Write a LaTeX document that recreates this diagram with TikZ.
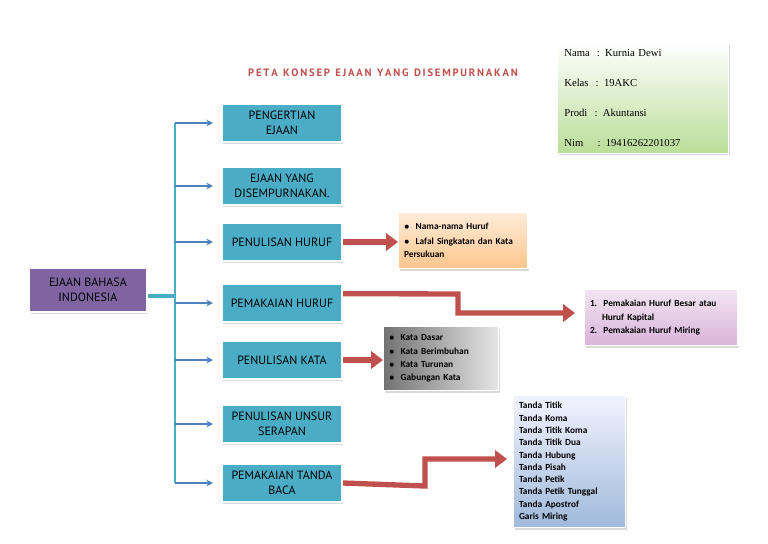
\documentclass[tikz,border=0pt]{standalone}
\usepackage{fontspec}
\setmainfont{Liberation Serif}
\newfontfamily\boxfont{PT Sans}
\newfontfamily\listfont{Carlito}
\usetikzlibrary{arrows.meta,shadows}
\definecolor{topicblue}{HTML}{4BACC6}
\definecolor{rootpurple}{HTML}{8064A2}
\definecolor{linkred}{HTML}{C0504D}
\definecolor{branchblue}{HTML}{4F81BD}
\tikzset{
  topic/.style={draw=white,line width=1.5pt,fill=topicblue,minimum width=90pt,minimum height=28pt,
    align=center,font=\boxfont\small,drop shadow={opacity=0.3,shadow xshift=1pt,shadow yshift=-1.5pt}},
  note/.style={draw=white,line width=1pt,drop shadow={opacity=0.3,shadow xshift=1pt,shadow yshift=-1.5pt},
    align=left,font=\listfont\bfseries\scriptsize,inner sep=4pt},
  branch/.style={-{Stealth[length=5pt,width=5pt]},branchblue,line width=1.4pt},
  bigarrow/.style={-{Triangle[length=9pt,width=13pt]},linkred,line width=4pt}
}
\begin{document}
\begin{tikzpicture}[x=0.75pt,y=-0.75pt]
  \useasboundingbox (0,0) rectangle (768,543);
  % title and student data
  \node[linkred,font=\boxfont\bfseries\footnotesize] (title) at (383,73) {P\,E\,T\,A\ \ K\,O\,N\,S\,E\,P\ \ E\,J\,A\,A\,N\ \ Y\,A\,N\,G\ \ D\,I\,S\,E\,M\,P\,U\,R\,N\,A\,K\,A\,N};
  \node[note,top color=white,bottom color=green!35!olive!40,text width=118pt,minimum height=82pt,
        font=\footnotesize,anchor=north west,inner sep=5pt] (info) at (557,42)
        {Nama\ \ : Kurnia Dewi\\[13pt]Kelas\ \ : 19AKC\\[13pt]Prodi\ \ : Akuntansi\\[13pt]Nim\ \ \ \ : 19416262201037};
  % root and topics
  \node[topic,fill=rootpurple,minimum width=88pt,minimum height=33pt] (root) at (88,290) {EJAAN BAHASA\\INDONESIA};
  \node[topic] (t1) at (282,123) {PENGERTIAN\\EJAAN};
  \node[topic] (t2) at (282,186) {EJAAN YANG\\DISEMPURNAKAN.};
  \node[topic] (t3) at (282,242) {PENULISAN HURUF};
  \node[topic] (t4) at (282,303) {PEMAKAIAN HURUF};
  \node[topic] (t5) at (282,360) {PENULISAN KATA};
  \node[topic] (t6) at (282,424) {PENULISAN UNSUR\\SERAPAN};
  \node[topic] (t7) at (282,483) {PEMAKAIAN TANDA\\BACA};
  \coordinate (top) at (175,123);
  \coordinate (bot) at (175,483);
  \coordinate (hub) at (175,296);
  \draw[topicblue,line width=1.8pt] (top) -- (bot);
  \draw[topicblue,line width=3.5pt] (root.east |- hub) -- (hub);
  \foreach \t in {t1,t2,t3,t4,t5,t6,t7}
    \draw[branch] (top |- \t) -- ([xshift=-6pt]\t.west);
  % detail notes
  \node[note,top color=orange!15,bottom color=orange!45,text width=89pt,minimum height=42pt,anchor=north west] (n3) at (398,212)
    {$\bullet$\ \ Nama-nama Huruf\\[3pt]$\bullet$\ \ Lafal Singkatan dan Kata\\[2pt]Persukuan};
  \node[note,top color=violet!10,bottom color=violet!30,text width=107pt,minimum height=42pt,anchor=north west] (n4) at (584,289)
    {1.\ \ Pemakaian Huruf Besar atau\\[2pt]\hspace*{9pt}Huruf Kapital\\[2pt]2.\ \ Pemakaian Huruf Miring};
  \node[note,left color=gray!90!black,right color=gray!20,text width=78pt,minimum height=48pt,anchor=north west] (n5) at (383,326)
    {$\bullet$\ \ Kata Dasar\\[2pt]$\bullet$\ \ Kata Berimbuhan\\[2pt]$\bullet$\ \ Kata Turunan\\[2pt]$\bullet$\ \ Gabungan Kata};
  \node[note,top color=blue!5,bottom color=branchblue!55,text width=76pt,minimum height=99pt,anchor=north west,font=\listfont\bfseries\fontsize{7}{9.2}\selectfont] (n7) at (513,395)
    {Tanda Titik\\Tanda Koma\\Tanda Titik Koma\\Tanda Titik Dua\\Tanda Hubung\\Tanda Pisah\\Tanda Petik\\Tanda Petik Tunggal\\Tanda Apostrof\\Garis Miring};
  % red links
  \draw[bigarrow] (t3.east) -- (n3.west |- t3);
  \draw[bigarrow] ([yshift=7pt]t4.east) -- (458,294) -- (458,313) -- (575,313);
  \draw[bigarrow] (t5.east) -- (n5.west |- t5);
  \draw[bigarrow] (t7.east) -- (425,486) -- (425,459) -- (507,459);
\end{tikzpicture}
\end{document}
